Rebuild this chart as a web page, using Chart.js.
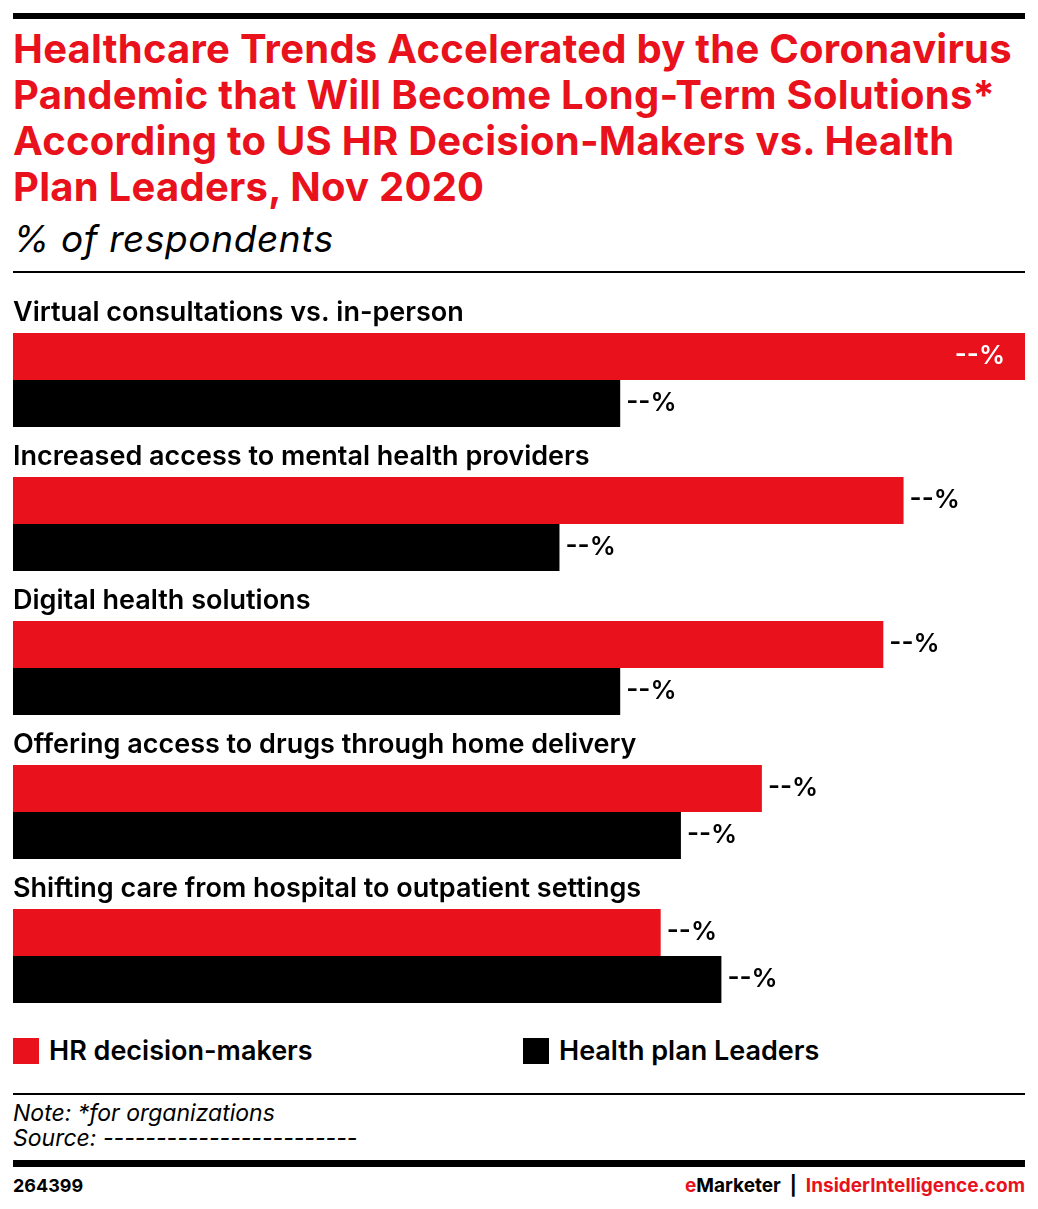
<!DOCTYPE html>
<html>
<head>
<meta charset="utf-8">
<script src="https://cdn.jsdelivr.net/npm/chart.js@4.4.0/dist/chart.umd.min.js"></script>
<style>
  body { margin: 0; background: #fff; font-family: Inter, "Noto Sans", sans-serif; color: #000; }
  #page { position: relative; width: 1038px; height: 1209px; overflow: hidden; background: #fff; }
  .rule { position: absolute; left: 13px; width: 1012px; background: #000; }
  #title { position: absolute; left: 13px; top: 26px; font-weight: 700; font-size: 40px; line-height: 46px; color: #e8111c; letter-spacing: 0.25px; white-space: nowrap; }
  #subtitle { position: absolute; left: 13px; top: 218px; font-style: italic; font-size: 37px; line-height: 42px; letter-spacing: 0.6px; }
  #chartBox { position: absolute; left: 0; top: 290px; width: 1038px; height: 738px; }
  .legend { position: absolute; top: 1037px; font-size: 27px; font-weight: 600; line-height: 28px; display: flex; align-items: center; }
  .legend span.sw { display: inline-block; width: 26px; height: 26px; margin-right: 10px; }
  #note { position: absolute; left: 13px; top: 1101px; font-style: italic; font-size: 23px; line-height: 25px; }
  #id { position: absolute; left: 13px; top: 1175px; font-weight: 700; font-size: 18px; line-height: 22px; }
  #brand { position: absolute; right: 13px; top: 1175px; font-weight: 700; font-size: 19px; line-height: 22px; }
  .red { color: #e8111c; }
</style>
</head>
<body>
<div id="page">
  <div class="rule" style="top:13px;height:6px"></div>
  <div id="title">Healthcare Trends Accelerated by the Coronavirus<br>Pandemic that Will Become Long-Term Solutions*<br>According to US HR Decision-Makers vs. Health<br>Plan Leaders, Nov 2020</div>
  <div id="subtitle">% of respondents</div>
  <div class="rule" style="top:271px;height:2px"></div>

  <div id="chartBox"><canvas id="chart"></canvas></div>

  <div class="legend" style="left:13px"><span class="sw" style="background:#e8111c"></span>HR decision-makers</div>
  <div class="legend" style="left:523px"><span class="sw" style="background:#000"></span>Health plan Leaders</div>

  <div class="rule" style="top:1093px;height:2px"></div>
  <div id="note">Note: *for organizations<br>Source: ------------------------</div>
  <div class="rule" style="top:1160px;height:7px"></div>
  <div id="id">264399</div>
  <div id="brand"><span class="red">e</span>Marketer&nbsp;&nbsp;|&nbsp;&nbsp;<span class="red">InsiderIntelligence.com</span></div>
</div>

<script>
// DATA
const categories = [
  'Virtual consultations vs. in-person',
  'Increased access to mental health providers',
  'Digital health solutions',
  'Offering access to drugs through home delivery',
  'Shifting care from hospital to outpatient settings'
];
const hrValues = [50, 44, 43, 37, 32];       // HR decision-makers
const healthPlanValues = [30, 27, 30, 33, 35]; // Health plan Leaders
const valueLabel = '--%';

const RED = '#e8111c';

// draws the category names above each group and the --% labels
const labelPlugin = {
  id: 'labels',
  afterDatasetsDraw(chart) {
    const ctx = chart.ctx;
    const area = chart.chartArea;
    ctx.save();
    // category names
    const first = chart.getDatasetMeta(0);
    ctx.font = '600 27px Inter, "Noto Sans", sans-serif';
    ctx.fillStyle = '#000';
    ctx.textAlign = 'left';
    ctx.textBaseline = 'middle';
    first.data.forEach((bar, i) => {
      const top = bar.y - bar.height / 2;
      ctx.fillText(categories[i], area.left, top - 20);
    });
    // value labels
    ctx.font = '600 26px Inter, "Noto Sans", sans-serif';
    chart.data.datasets.forEach((ds, d) => {
      const meta = chart.getDatasetMeta(d);
      meta.data.forEach((bar) => {
        const w = ctx.measureText(valueLabel).width;
        if (bar.x + 6 + w > area.right) {
          ctx.fillStyle = '#fff';
          ctx.textAlign = 'right';
          ctx.fillText(valueLabel, bar.x - 20, bar.y);
        } else {
          ctx.fillStyle = '#000';
          ctx.textAlign = 'left';
          ctx.fillText(valueLabel, bar.x + 6, bar.y);
        }
      });
    });
    ctx.restore();
  }
};

new Chart(document.getElementById('chart'), {
  type: 'bar',
  data: {
    labels: categories,
    datasets: [
      { label: 'HR decision-makers', data: hrValues, backgroundColor: RED },
      { label: 'Health plan Leaders', data: healthPlanValues, backgroundColor: '#000' }
    ]
  },
  options: {
    indexAxis: 'y',
    responsive: true,
    maintainAspectRatio: false,
    animation: false,
    categoryPercentage: 94 / 144,
    barPercentage: 1,
    layout: { padding: { top: 18, right: 13, bottom: 0, left: 13 } },
    plugins: { legend: { display: false }, tooltip: { enabled: false } },
    scales: {
      x: { display: false, min: 0, max: 50 },
      y: { display: false }
    }
  },
  plugins: [labelPlugin]
});
</script>
</body>
</html>
